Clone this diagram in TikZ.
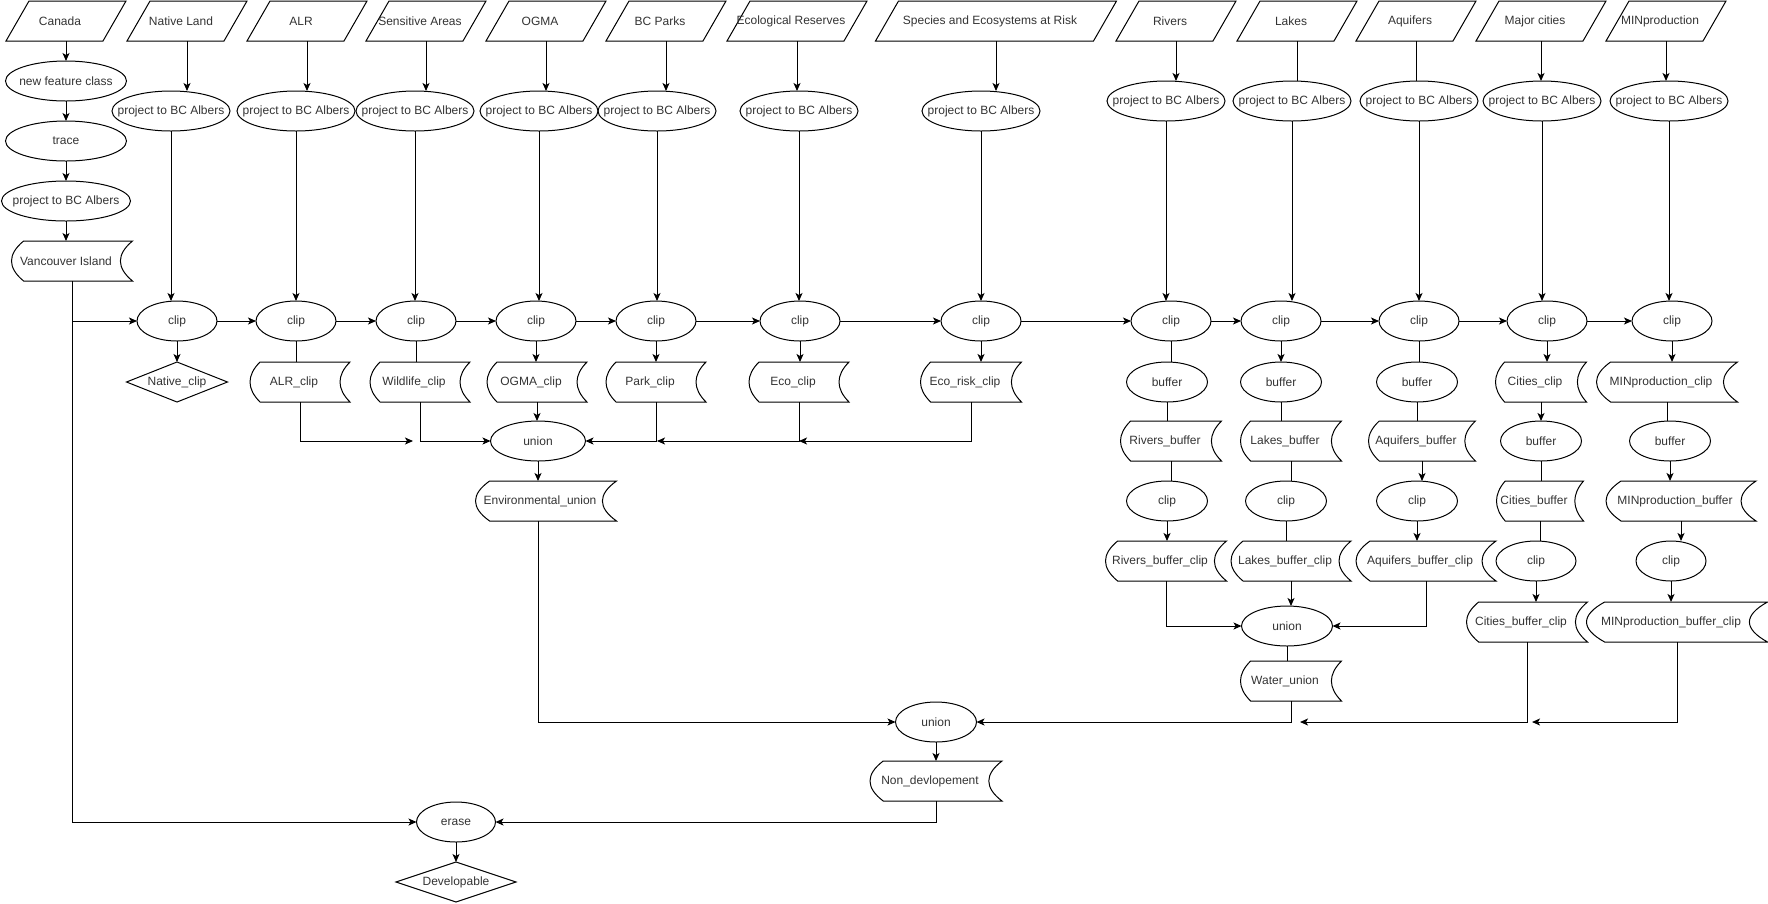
\documentclass[tikz,border=0pt]{standalone}
\usepackage{fontspec}
\setmainfont{Liberation Sans}
\usetikzlibrary{shapes.geometric,arrows.meta,calc}
\tikzset{
  shp/.style={draw=black, line width=1pt},
  lbl/.style={font=\fontsize{12}{14}\selectfont, text=black!80, inner sep=0pt, outer sep=0pt},
  zerow/.style={lbl, execute at begin node={\hbox to 0pt\bgroup\hss}, execute at end node={\hss\egroup}},
  layer/.style={lbl, minimum width=#1pt, minimum height=40pt,
    execute at begin node={\hspace*{-12pt}},
    append after command={\pgfextra{
      \draw[shp] ($(\tikzlastnode.north west)+(23pt,0pt)$) -- (\tikzlastnode.north east)
        -- ($(\tikzlastnode.south east)+(-23pt,0pt)$) -- (\tikzlastnode.south west) -- cycle;}}},
  layer/.default=120,
  proc/.style={zerow, shp, ellipse, minimum width=#1pt, minimum height=40pt},
  proc/.default=80,
  result/.style={zerow, shp, diamond, minimum width=#1pt, minimum height=40pt},
  stored/.style={lbl, minimum width=#1pt, minimum height=40pt,
    execute at begin node={\hspace*{-12pt}},
    append after command={\pgfextra{
      \draw[shp] ($(\tikzlastnode.north west)+(0.1*#1pt,0pt)$) -- (\tikzlastnode.north east)
        .. controls +(-0.1333*#1pt,-13.33pt) and +(-0.1333*#1pt,13.33pt) .. (\tikzlastnode.south east)
        -- ($(\tikzlastnode.south west)+(0.1*#1pt,0pt)$)
        .. controls +(-0.1333*#1pt,13.33pt) and +(-0.1333*#1pt,-13.33pt) .. ($(\tikzlastnode.north west)+(0.1*#1pt,0pt)$)
        -- cycle;}}},
  ln/.style={line width=1pt},
  arr/.style={ln, -{Stealth[length=8pt, width=7pt, inset=2pt]}},
}
\begin{document}
\begin{tikzpicture}[x=1pt, y=-1pt]
    \useasboundingbox (0,0) rectangle (1768,903);
    % input layers
    \node[layer] (can) at (66,21) {Canada};
    \node[layer] (nat) at (187,21) {Native Land};
    \node[layer] (alr) at (307,21) {ALR};
    \node[layer] (sens) at (426,21) {Sensitive Areas};
    \node[layer] (ogma) at (546,21) {OGMA};
    \node[layer] (park) at (666,21) {BC Parks};
    \node[layer=140] (eco) at (797,21) {Ecological Reserves};
    \node[layer=241] (risk) at (996,21) {Species and Ecosystems at Risk};
    \node[layer] (riv) at (1176,21) {Rivers};
    \node[layer] (lak) at (1297,21) {Lakes};
    \node[layer] (aqu) at (1416,21) {Aquifers};
    \node[layer=130] (city) at (1541,21) {Major cities};
    \node[layer] (min) at (1666,21) {MINproduction};

    \node[proc=121] (nfc) at (66,81) {new feature class};
    \node[proc=121] (trace) at (66,141) {trace};
    \node[proc=129] (pcan) at (66,201) {project to BC Albers};
    \node[stored=121] (vanc) at (72,261) {Vancouver Island};

    \foreach \n/\x/\y in {pnat/171/111, palr/296/111, psens/415/111, pogma/539/111, ppark/657/111, peco/799/111, prisk/981/111, priv/1166/101, plak/1292/101, paqu/1419/101, pcity/1542/101, pmin/1669/101}{
        \node[proc=118] (\n) at (\x,\y) {project to BC Albers};
    }
    \foreach \n/\x in {cnat/177, calr/296, csens/416, cogma/536, cpark/656, ceco/800, crisk/981, criv/1171, clak/1281, caqu/1419, ccity/1547, cmin/1672}{
        \node[proc] (\n) at (\x,321) {clip};
    }

    \node[result=101] (natc) at (177,382) {Native\_clip};
    \node[stored=100] (alrc) at (300,382) {ALR\_clip};
    \node[stored=100] (wildc) at (420,382) {Wildlife\_clip};
    \node[stored=100] (ogmac) at (537,382) {OGMA\_clip};
    \node[stored=100] (parkc) at (656,382) {Park\_clip};
    \node[stored=100] (ecoc) at (799,382) {Eco\_clip};
    \node[stored=101] (riskc) at (971,382) {Eco\_risk\_clip};
    \node[proc=81] (briv) at (1167,382) {buffer};
    \node[proc=81] (blak) at (1281,382) {buffer};
    \node[proc=81] (baqu) at (1417,382) {buffer};
    \node[stored=91] (cityc) at (1541,382) {Cities\_clip};
    \node[stored=141] (minc) at (1667,382) {MINproduction\_clip};

    \node[proc=95] (uenv) at (538,441) {union};
    \node[stored=101] (rivb) at (1171,441) {Rivers\_buffer};
    \node[stored=101] (lakb) at (1291,441) {Lakes\_buffer};
    \node[stored=107] (aqub) at (1422,441) {Aquifers\_buffer};
    \node[proc=81] (bcity) at (1541,441) {buffer};
    \node[proc=81] (bmin) at (1670,441) {buffer};

    \node[stored=141] (envu) at (546,501) {Environmental\_union};
    \node[proc=81] (criv2) at (1167,501) {clip};
    \node[proc=81] (clak2) at (1286,501) {clip};
    \node[proc=81] (caqu2) at (1417,501) {clip};
    \node[stored=87] (cityb) at (1540,501) {Cities\_buffer};
    \node[stored=150] (minb) at (1681,501) {MINproduction\_buffer};

    \node[stored=121] (rivbc) at (1166,561) {Rivers\_buffer\_clip};
    \node[stored=120] (lakbc) at (1291,561) {Lakes\_buffer\_clip};
    \node[stored=140] (aqubc) at (1426,561) {Aquifers\_buffer\_clip};
    \node[proc] (ccity2) at (1536,561) {clip};
    \node[proc=70] (cmin2) at (1671,561) {clip};

    \node[proc=91] (uwat) at (1287,626) {union};
    \node[stored=121] (citybc) at (1527,622) {Cities\_buffer\_clip};
    \node[stored=181] (minbc) at (1677,622) {MINproduction\_buffer\_clip};
    \node[stored=101] (watu) at (1291,681) {Water\_union};

    \node[proc=81] (ufin) at (936,722) {union};
    \node[stored=132] (nondev) at (936,781) {Non\_devlopement};
    \node[proc=79] (erase) at (456,822) {erase};
    \node[result=120] (dev) at (456,882) {Developable};

    \coordinate (jalr) at (413,441);
    \coordinate (jpark) at (657,441);
    \coordinate (jeco) at (799,441);
    \coordinate (jwat) at (1300,722);
    \coordinate (jcity) at (1532,722);

    % vertical flow
    \foreach \a/\b in {can/nfc, nfc/trace, trace/pcan, pcan/vanc, nat/pnat, alr/palr, sens/psens, ogma/pogma, park/ppark, eco/peco, risk/prisk, riv/priv, city/pcity, min/pmin, pnat/cnat, palr/calr, psens/csens, pogma/cogma, ppark/cpark, peco/ceco, prisk/crisk, priv/criv, plak/clak, paqu/caqu, pcity/ccity, pmin/cmin, cnat/natc, cogma/ogmac, cpark/parkc, ceco/ecoc, crisk/riskc, clak/blak, ccity/cityc, cmin/minc, cityc/bcity, aqub/caqu2, bmin/minb, criv2/rivbc, caqu2/aqubc, minb/cmin2, lakbc/uwat, ccity2/citybc, cmin2/minbc, ogmac/uenv, uenv/envu, ufin/nondev, erase/dev}{
        \draw[arr] (\a) -- (\a |- \b.north);
    }
    \foreach \a/\b in {lak/plak, aqu/paqu, calr/alrc, csens/wildc, criv/briv, caqu/baqu, briv/rivb, blak/lakb, baqu/aqub, minc/bmin, rivb/criv2, lakb/clak2, bcity/cityb, clak2/lakbc, cityb/ccity2, uwat/watu}{
        \draw[ln] (\a) -- (\a |- \b.north);
    }
    % clip chain
    \foreach \a/\b in {cnat/calr, calr/csens, csens/cogma, cogma/cpark, cpark/ceco, ceco/crisk, crisk/criv, criv/clak, clak/caqu, caqu/ccity, ccity/cmin}{
        \draw[arr] (\a) -- (\b);
    }
    \draw[arr] (vanc) |- (cnat);
    \draw[arr] (vanc) |- (erase);
    \draw[arr] (alrc) |- (jalr);
    \draw[arr] (wildc) |- (uenv);
    \draw[arr] (parkc) |- (uenv);
    \draw[arr] (ecoc) |- (jpark);
    \draw[arr] (riskc) |- (jeco);
    \draw[arr] (envu.south -| uenv) |- (ufin);
    \draw[arr] (rivbc) |- (uwat);
    \draw[arr] (aqubc) |- (uwat);
    \draw[arr] (watu) |- (ufin);
    \draw[arr] (citybc) |- (jwat);
    \draw[arr] (minbc) |- (jcity);
    \draw[arr] (nondev) |- (erase);
\end{tikzpicture}
\end{document}
